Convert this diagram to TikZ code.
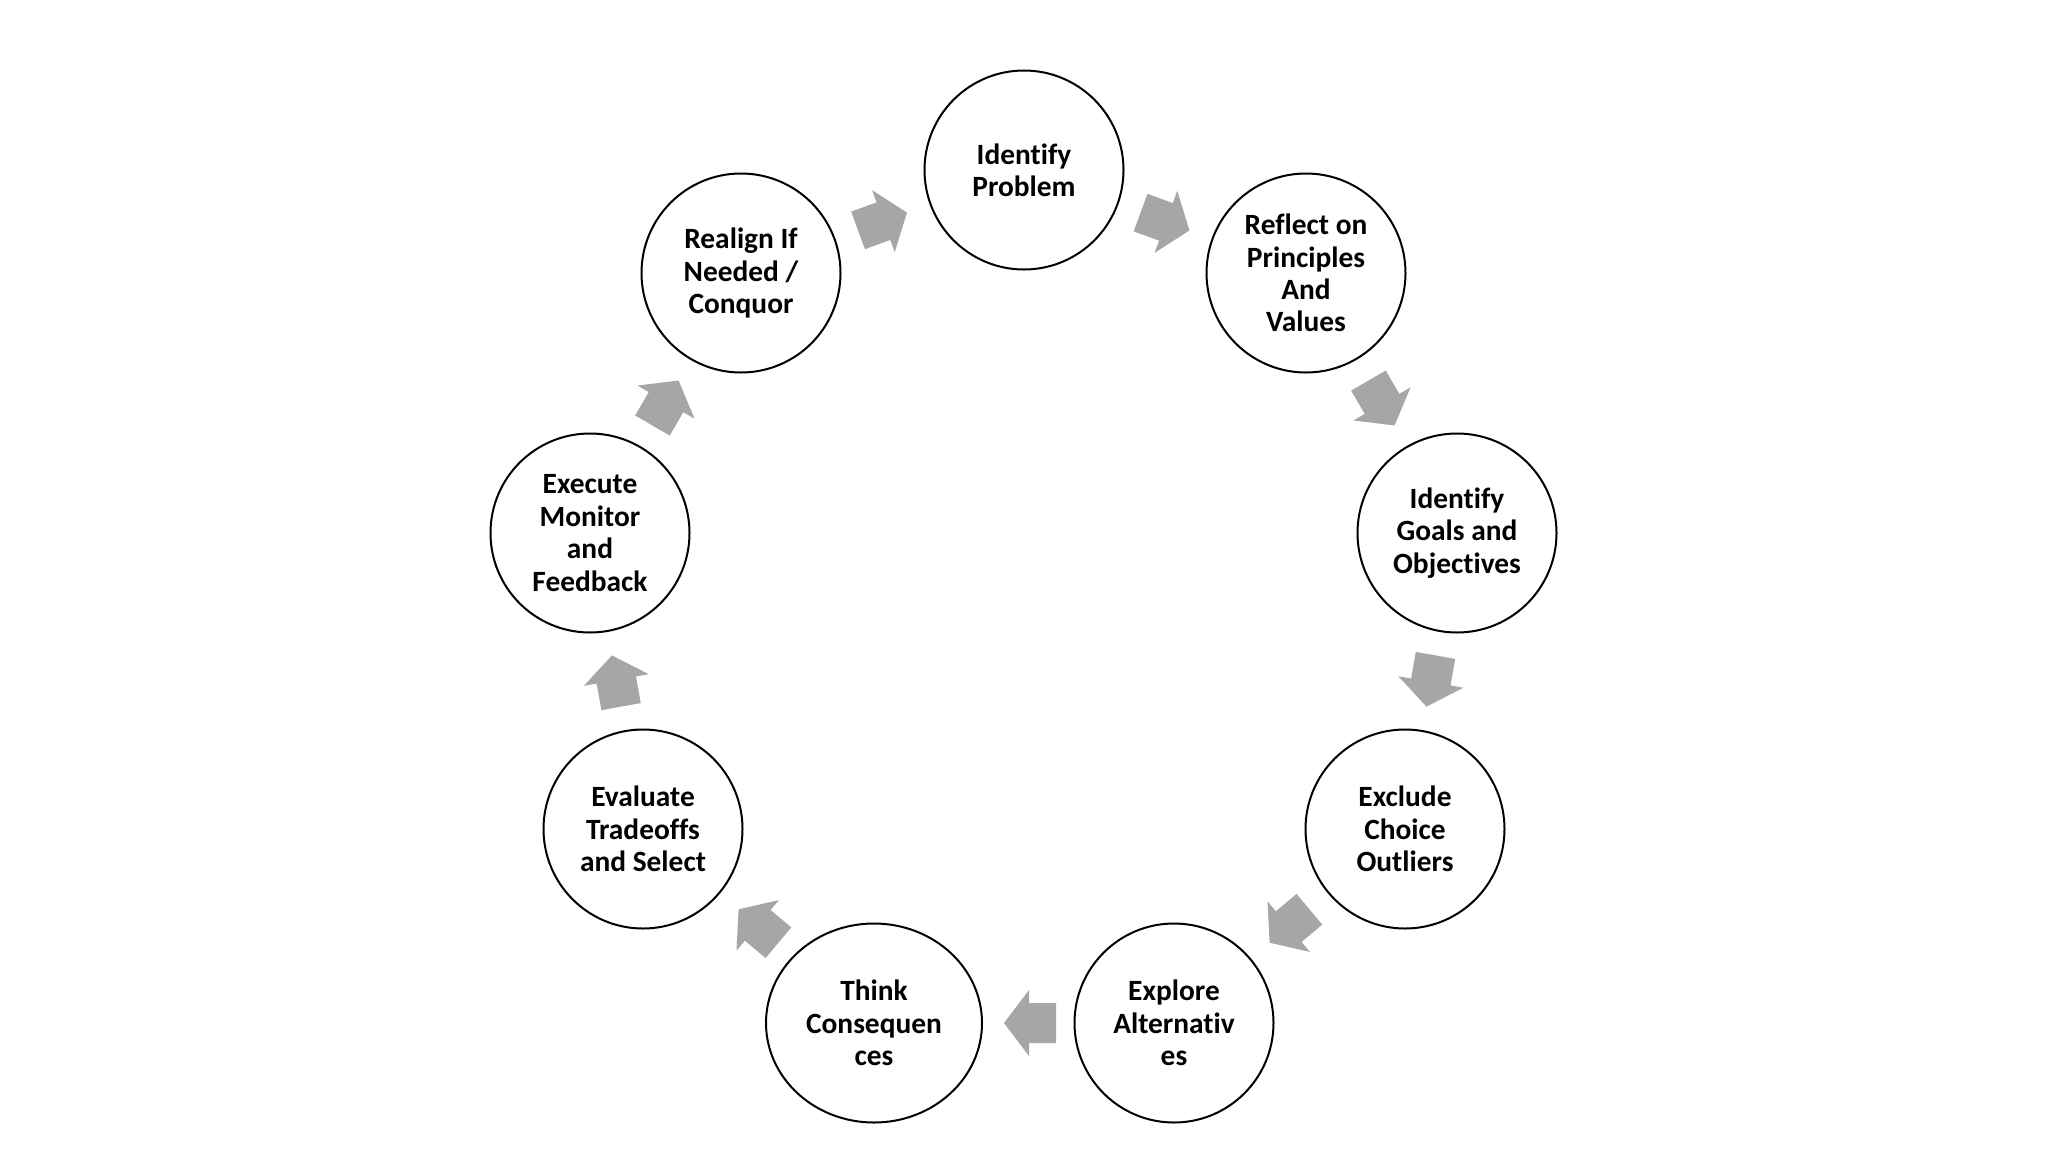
\documentclass[tikz,border=0pt]{standalone}
\usepackage{fontspec}
\setmainfont{Carlito}[Ligatures=NoCommon]
\usetikzlibrary{calc,shapes.geometric}
\definecolor{arrowgray}{HTML}{A6A6A6}
\tikzset{
  stage/.style={circle, draw=black, line width=2pt, fill=white, minimum size=199pt, inner sep=0pt,
    align=center, font=\fontsize{29.4}{32.4}\selectfont\bfseries, text=black},
  stageoval/.style={stage, ellipse, minimum width=216pt, minimum height=199pt}
}
\newcommand{\blockarr}[3][0.5]{%
  \pgfmathanglebetweenpoints{\pgfpointanchor{#2}{center}}{\pgfpointanchor{#3}{center}}%
  \let\arrang\pgfmathresult
  \begin{scope}[shift={($(#2.center)!#1!(#3.center)$)}, rotate=\arrang]
    \fill[arrowgray] (-26,-20) -- (1,-20) -- (1,-33) -- (26,0) -- (1,33) -- (1,20) -- (-26,20) -- cycle;
  \end{scope}}
\begin{document}
\begin{tikzpicture}[x=1pt,y=-1pt]
\fill[white] (0,0) rectangle (2048,1152);
\useasboundingbox (0,0) rectangle (2048,1152);
\node[stage] (p1) at (1024,170) {Identify\\Problem};
\node[stage] (p2) at (1306,273) {Reflect on\\Principles\\And\\Values};
\node[stage] (p3) at (1457,533) {Identify\\Goals and\\Objectives};
\node[stage] (p4) at (1405,829) {Exclude\\Choice\\Outliers};
\node[stage] (p5) at (1174,1023) {Explore\\Alternativ\\es};
\node[stageoval] (p6) at (874,1023) {Think\\Consequen\\ces};
\node[stage] (p7) at (643,829) {Evaluate\\Tradeoffs\\and Select};
\node[stage] (p8) at (590,533) {Execute\\Monitor\\and\\Feedback};
\node[stage] (p9) at (741,273) {Realign If\\Needed /\\Conquor};
\blockarr{p1}{p2}
\blockarr{p2}{p3}
\blockarr{p3}{p4}
\blockarr{p4}{p5}
\blockarr[0.48]{p5}{p6}
\blockarr{p6}{p7}
\blockarr{p7}{p8}
\blockarr{p8}{p9}
\blockarr{p9}{p1}
\end{tikzpicture}
\end{document}
